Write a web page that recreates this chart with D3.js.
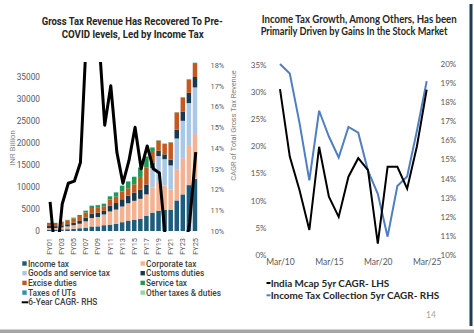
<!DOCTYPE html>
<html><head><meta charset="utf-8">
<script src="https://cdn.jsdelivr.net/npm/d3@7"></script>
<style>body{margin:0;background:#fff}svg{display:block}</style>
</head><body>
<svg id="c" width="474" height="333"></svg>
<script>
// ---------- Left chart data (INR Billion) ----------
const fy = ["FY01","FY02","FY03","FY04","FY05","FY06","FY07","FY08","FY09","FY10","FY11","FY12","FY13","FY14","FY15","FY16","FY17","FY18","FY19","FY20","FY21","FY22","FY23","FY24","FY25"];
const incomeTax    = [315,325,370,415,493,636,754,1023,1060,1320,1460,1645,2010,2375,2580,2800,3490,4190,4620,4800,4870,6960,8340,10450,11870];
const corporateTax = [357,366,464,634,829,1013,1443,1930,2134,2446,2989,3229,3563,3943,4286,4530,4849,5712,6636,5568,4578,7121,8257,9110,10200];
const gst          = [0,0,0,0,0,0,0,0,0,0,0,0,0,0,0,0,0,4420,5816,5988,5480,6980,8490,9570,10620];
const customs      = [476,404,449,488,577,651,862,1042,999,831,1357,1493,1650,1721,1883,2104,2253,1293,1178,1094,1348,1996,2134,2331,2375];
const excise       = [682,723,823,908,991,1111,1177,1233,1086,1029,1379,1448,1757,1699,1898,2880,3809,2593,2310,2396,3899,3945,3191,3052,3175];
const serviceTax   = [27,33,41,79,141,231,376,516,609,585,714,976,1326,1547,1679,2115,2545,811,69,12,10,5,4,3,2];
const utTaxes      = [8,9,10,12,14,12,14,15,17,18,20,22,25,28,30,33,35,40,45,48,42,55,60,65,70];
const otherTaxes   = [12,10,6,7,5,6,40,60,50,19,12,40,39,40,45,50,60,50,50,60,40,33,50,60,60];
const cagr6        = [11.4,8.4,11.3,12.3,12.4,13.3,19.5,20.5,19.5,15.1,17.0,13.8,12.3,13.4,15.0,13.0,14.1,13.0,12.8,9.6,8.5,8.0,8.8,10.4,13.8];
const leftTicks  = [0,5000,10000,15000,20000,25000,30000,35000];
const rightTicks = [10,11,12,13,14,15,16,17,18];

const seriesNames  = ["Income tax","Corporate tax","Goods and service tax","Customs duties","Excise duties","Service tax","Taxes of UTs","Other taxes & duties"];
const seriesData   = [incomeTax,corporateTax,gst,customs,excise,serviceTax,utTaxes,otherTaxes];
const seriesColors = ["#1d5c7c","#f3b292","#a7c8e6","#163a50","#c4581f","#1e9a55","#2e92b6","#93d6a5"];

// ---------- Right chart data ----------
const years   = ["Mar/10","Mar/11","Mar/12","Mar/13","Mar/14","Mar/15","Mar/16","Mar/17","Mar/18","Mar/19","Mar/20","Mar/21","Mar/22","Mar/23","Mar/24","Mar/25"];
const mcapCagr = [30.5,18.1,11.9,4.6,19.9,10.7,7.0,14.4,17.8,15.6,2.1,16.2,16.2,12.2,20.0,30.4];
const itaxCagr = [20.0,19.5,16.9,13.9,17.55,16.2,15.1,16.7,16.4,14.4,13.2,10.95,13.6,14.1,16.5,19.1];
const rLeftTicks  = [0,5,10,15,20,25,30,35];
const rRightTicks = [10,11,12,13,14,15,16,17,18,19,20];
const rXTicks = ["Mar/10","Mar/15","Mar/20","Mar/25"];

const svg = d3.select("#c");
const F1 = "Roboto, 'Noto Sans', sans-serif";
const F2 = "Lato, 'Open Sans', sans-serif";

// ================= LEFT CHART =================
const L = svg.append("g");
const t1 = L.append("g").attr("font-family",F1).attr("font-weight",700).attr("font-size","10.5px").attr("fill","#262626");
t1.append("text").attr("x",41.7).attr("y",24.5).attr("textLength",181).attr("lengthAdjust","spacingAndGlyphs").text("Gross Tax Revenue Has Recovered To Pre-");
t1.append("text").attr("x",61.7).attr("y",38).attr("textLength",142).attr("lengthAdjust","spacingAndGlyphs").text("COVID levels, Led by Income Tax");

const xb = d3.scaleBand().domain(fy).range([46.25,198]).paddingInner(0.26).paddingOuter(0.13);
const yL = d3.scaleLinear().domain([0,35000]).range([231,77.3]);
const yR = d3.scaleLinear().domain([10,18]).range([231,65]);

const table = fy.map((f,i)=>{const o={fy:f}; seriesNames.forEach((s,k)=>o[s]=seriesData[k][i]); return o;});
const stacked = d3.stack().keys(seriesNames)(table);
L.append("g").selectAll("g").data(stacked).join("g")
  .attr("fill",(d,i)=>seriesColors[i])
  .selectAll("rect").data(d=>d).join("rect")
  .attr("x",d=>xb(d.data.fy)).attr("width",xb.bandwidth())
  .attr("y",d=>yL(d[1])).attr("height",d=>Math.max(0,yL(d[0])-yL(d[1])));

// CAGR line, clipped to plot area
svg.append("defs").append("clipPath").attr("id","lc").append("rect").attr("x",40).attr("y",62).attr("width",165).attr("height",170);
L.append("path").datum(cagr6).attr("clip-path","url(#lc)")
  .attr("fill","none").attr("stroke","#000").attr("stroke-width",3).attr("stroke-linejoin","round")
  .attr("d",d3.line().x((d,i)=>xb(fy[i])+xb.bandwidth()/2+0.8).y(d=>yR(d)));

// axes
const axL = L.append("g").attr("transform","translate(40,0)")
  .call(d3.axisLeft(yL).tickValues(leftTicks).tickSize(0).tickPadding(0).tickFormat(d3.format("d")));
axL.select(".domain").remove();
axL.selectAll("text").attr("font-family",F1).attr("font-size","8.3px").attr("fill","#595959");

const axR = L.append("g").attr("transform","translate(210.5,0)")
  .call(d3.axisRight(yR).tickValues(rightTicks).tickSize(0).tickPadding(0).tickFormat(d=>d+"%"));
axR.select(".domain").remove();
axR.selectAll("text").attr("font-family",F1).attr("font-size","7.4px").attr("fill","#595959");

const axX = L.append("g").attr("transform","translate(0,231)")
  .call(d3.axisBottom(xb).tickValues(fy.filter((d,i)=>i%2===0)).tickSize(0));
axX.select(".domain").remove();
axX.selectAll("text").attr("transform","rotate(-90)").attr("x",-7).attr("y",0).attr("dy","0.35em")
  .style("text-anchor","end").attr("font-family",F1).attr("font-size","7.4px").attr("fill","#595959");

L.append("text").attr("transform","translate(15,148) rotate(-90)").attr("text-anchor","middle")
  .attr("font-family",F1).attr("font-size","7.8px").attr("fill","#7f7f7f").text("INR Billion");
L.append("text").attr("transform","translate(235.5,125.5) rotate(-90)").attr("text-anchor","middle")
  .attr("font-family",F1).attr("font-size","7.4px").attr("fill","#7f7f7f").text("CAGR of Total Gross Tax Revenue");

// legend
const lg = L.append("g").attr("font-family",F1).attr("font-weight",500).attr("font-size","8.3px").attr("fill","#404040");
seriesNames.forEach((s,i)=>{
  const cx = i%2===0 ? 22.3 : 140.5;
  const cy = 263.5 + Math.floor(i/2)*9.7;
  lg.append("rect").attr("x",cx).attr("y",cy-2.2).attr("width",4.4).attr("height",4.4).attr("fill",seriesColors[i]);
  lg.append("text").attr("x",cx+5.6).attr("y",cy+3).text(s);
});
const cyl = 263.5 + 4*9.7;
lg.append("line").attr("x1",21.7).attr("x2",28.3).attr("y1",cyl).attr("y2",cyl).attr("stroke","#000").attr("stroke-width",2);
lg.append("text").attr("x",28.3).attr("y",cyl+3).text("6-Year CAGR- RHS");

// ================= RIGHT CHART =================
const R = svg.append("g");
const t2 = R.append("g").attr("font-family",F2).attr("font-weight",700).attr("font-size","10.5px").attr("fill","#262626");
t2.append("text").attr("x",261.7).attr("y",23).attr("textLength",195).attr("lengthAdjust","spacingAndGlyphs").text("Income Tax Growth, Among Others, Has been");
t2.append("text").attr("x",260.7).attr("y",35).attr("textLength",186.7).attr("lengthAdjust","spacingAndGlyphs").text("Primarily Driven by Gains In the Stock Market");

const xr = d3.scalePoint().domain(years).range([280,426.7]);
const yrl = d3.scaleLinear().domain([0,35]).range([255,64.6]);
const yrr = d3.scaleLinear().domain([10,20]).range([254.8,64]);

R.append("path").datum(itaxCagr).attr("fill","none").attr("stroke","#4f7fc0").attr("stroke-width",2)
  .attr("d",d3.line().x((d,i)=>xr(years[i])).y(d=>yrr(d)));
R.append("path").datum(mcapCagr).attr("fill","none").attr("stroke","#000").attr("stroke-width",2)
  .attr("d",d3.line().x((d,i)=>xr(years[i])).y(d=>yrl(d)));

const rl = R.append("g").attr("transform","translate(266.5,0)")
  .call(d3.axisLeft(yrl).tickValues(rLeftTicks).tickSize(0).tickPadding(0).tickFormat(d=>d+"%"));
rl.select(".domain").remove();
rl.selectAll("text").attr("font-family",F2).attr("font-size","8px").attr("fill","#595959");

const rr = R.append("g").attr("transform","translate(440.5,0)")
  .call(d3.axisRight(yrr).tickValues(rRightTicks).tickSize(0).tickPadding(0).tickFormat(d=>d+"%"));
rr.select(".domain").remove();
rr.selectAll("text").attr("font-family",F2).attr("font-size","8px").attr("fill","#595959");

const rx = R.append("g").attr("transform","translate(0,259)")
  .call(d3.axisBottom(xr).tickValues(rXTicks).tickSize(0).tickPadding(0));
rx.select(".domain").remove();
rx.selectAll("text").attr("font-family",F2).attr("font-size","8.5px").attr("fill","#595959");

const rlg = R.append("g").attr("font-family",F2).attr("font-weight",700).attr("font-size","9.8px").attr("fill","#262626");
rlg.append("line").attr("x1",266.5).attr("x2",270.5).attr("y1",283).attr("y2",283).attr("stroke","#000").attr("stroke-width",2);
rlg.append("text").attr("x",270.7).attr("y",286.5).attr("textLength",118.6).attr("lengthAdjust","spacingAndGlyphs").text("India Mcap 5yr CAGR- LHS");
rlg.append("line").attr("x1",266.5).attr("x2",270.5).attr("y1",295.3).attr("y2",295.3).attr("stroke","#4f7fc0").attr("stroke-width",2);
rlg.append("text").attr("x",270.7).attr("y",298.8).attr("textLength",168.6).attr("lengthAdjust","spacingAndGlyphs").text("Income Tax Collection 5yr CAGR- RHS");

R.append("text").attr("x",431).attr("y",318).attr("text-anchor","middle").attr("font-family",F2).attr("font-size","8.5px").attr("fill","#a6a6a6").text("14");

// frame decorations
svg.append("rect").attr("x",469.5).attr("y",4).attr("width",3).attr("height",322).attr("fill","#1c3d5a");
svg.append("rect").attr("x",0).attr("y",329.5).attr("width",474).attr("height",3.5).attr("fill","#a6a6a6");
</script>
</body></html>
